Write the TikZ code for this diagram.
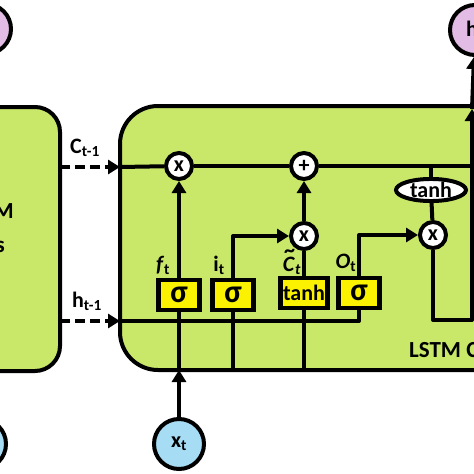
\documentclass[tikz,border=0pt]{standalone}
\usepackage{fontspec}
\setmainfont{Carlito}
\usetikzlibrary{arrows.meta,shapes.geometric}
\definecolor{cellgreen}{HTML}{C9E86A}
\definecolor{gateyellow}{HTML}{FAF200}
\definecolor{outpink}{HTML}{E2BCE4}
\definecolor{inblue}{HTML}{A6DCF4}
\newcommand\tsub[1]{\textsubscript{#1}}
\newcommand\tildeC{\makebox[0pt][l]{\hspace{0.05em}\raisebox{0.62em}{\textasciitilde}}\textit{C}}
\begin{document}
\begin{tikzpicture}[x=1pt,y=-1pt,
  every node/.style={font=\bfseries\fontsize{22}{24}\selectfont},
  tip/.style={-{Triangle[length=12pt,width=14pt]}},
  wire/.style={line width=4pt, line join=round},
  dasharrow/.style={wire, dash pattern=on 10pt off 5pt, tip},
  cellbox/.style={draw, line width=4pt, fill=cellgreen},
  opnode/.style={circle, draw, line width=4pt, fill=white, minimum size=26pt, inner sep=0pt},
  ellnode/.style={ellipse, draw, line width=4pt, fill=white, minimum width=70pt, minimum height=22pt, inner sep=0pt},
  gatebox/.style={rectangle, draw, line width=4.5pt, fill=gateyellow, minimum width=41pt, minimum height=30pt, inner sep=1pt},
  sig/.style={font=\bfseries\fontsize{32}{32}\selectfont},
  outcirc/.style={circle, draw, line width=4pt, fill=outpink, minimum size=50pt, inner sep=0pt},
  incirc/.style={circle, draw, line width=4pt, fill=inblue, minimum size=50pt, inner sep=0pt},
  lbl/.style={inner sep=0pt},
  big/.style={font=\bfseries\fontsize{23}{24}\selectfont, inner sep=0pt}
]
\useasboundingbox (0,0) rectangle (474,474);

% cell bodies
\draw[cellbox, rounded corners=25pt] (-200,107) rectangle (60,371);
\draw[cellbox, rounded corners=38pt] (120,106) rectangle (600,370);

% nodes
\node[opnode] (fx) at (179,166) {x};
\node[opnode] (add) at (304,166) {+};
\node[opnode] (ix) at (304,236) {x};
\node[opnode] (ox) at (433,235) {x};
\node[ellnode] (tc) at (431,190) {tanh};
\node[gatebox, sig] (fg) at (179,295) {σ};
\node[gatebox, sig] (ig) at (233,295) {σ};
\node[gatebox, minimum width=47pt] (cg) at (304,293) {tanh};
\node[gatebox, sig] (og) at (359,293) {σ};
\node[incirc] (xt) at (179,444) {x\tsub{t}};
\node[outcirc] (ht) at (475,30) {h\tsub{t}};
\node[outcirc] (hprev) at (-14,29) {};
\node[incirc] (xprev) at (-19,444) {};

\coordinate (lC) at (60,167);
\coordinate (cin) at (120,167);
\coordinate (lh) at (60,321);
\coordinate (hin) at (120,321);
\coordinate (cright) at (472,166);
\coordinate (ctap) at (431,166);
\coordinate (hc) at (472,320);
\coordinate (hb) at (472,109);
\coordinate (bot) at (0,370);

% connectors
\draw[dasharrow] (lC) -- (cin);
\draw[dasharrow] (lh) -- (hin);
\draw[wire] (cin) -- (fx);
\draw[wire] (fx) -- (add);
\draw[wire] (add) -- (cright);
\draw[wire] (ctap) -- (tc);
\draw[wire] (tc) -- (ox);
\draw[wire, tip] (ox) |- (hc) -- (hb);
\draw[wire, tip] (hb) -- (ht);
\draw[wire, tip] (fg) -- (fx);
\draw[wire, tip] (ix) -- (add);
\draw[wire, tip] (ig) |- (ix);
\draw[wire] (cg) -- (ix);
\draw[wire, tip] (og) |- (ox);
\draw[wire] (hin) -| (og);
\draw[wire] (fg) -- (fg |- bot);
\draw[wire] (ig) -- (ig |- bot);
\draw[wire] (cg) -- (cg |- bot);
\draw[wire, tip] (xt) -- (xt |- bot);

% labels
\node[lbl] (lc) at (85,148) {C\tsub{t-1}};
\node[lbl] (lhl) at (87,301) {h\tsub{t-1}};
\node[lbl] (lf) at (163,265) {\textit{f}\tsub{t}};
\node[lbl] (li) at (219,265) {i\tsub{t}};
\node[lbl] (lcc) at (292,262) {\tildeC\tsub{\textit{t}}};
\node[lbl] (lo) at (346,263) {\textit{O}\tsub{t}};
\node[big, anchor=base west] (lstm) at (409,357) {LSTM Cell};
\node[big, anchor=base east] (lstmL1) at (14,218) {LSTM};
\node[big, anchor=base east] (lstmL2) at (5,252) {Cells};
\end{tikzpicture}
\end{document}
